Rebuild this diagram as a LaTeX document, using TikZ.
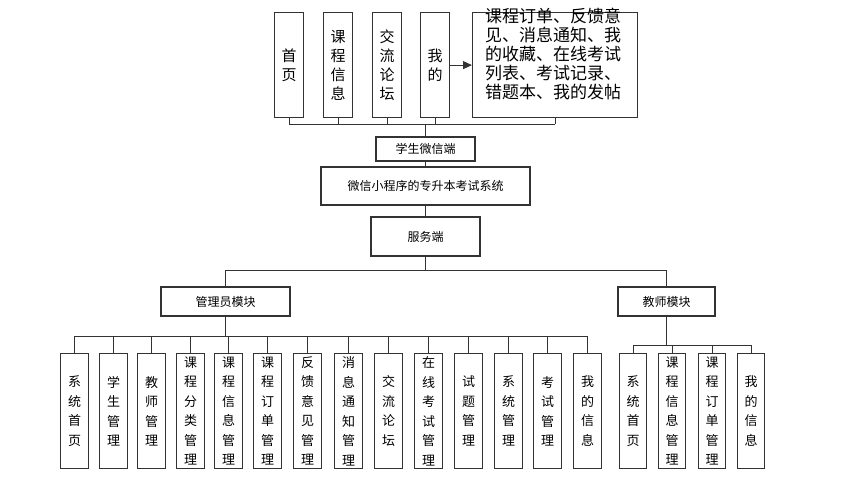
\documentclass[tikz,border=0pt]{standalone}
\usepackage{fontspec}
\setmainfont{Noto Sans CJK SC}
\usetikzlibrary{arrows.meta}
\begin{document}
\begin{tikzpicture}[x=1pt,y=-1pt,
  bx/.style={draw=black!80,line width=1.2pt,inner sep=0pt,align=center},
  ln/.style={draw=black!80,line width=1pt},
  top/.style={bx,minimum width=29pt,minimum height=105pt,anchor=north west,font=\fontsize{15}{19}\selectfont},
  low/.style={bx,minimum width=28pt,minimum height=115pt,anchor=north west,font=\fontsize{13}{19.5}\selectfont},
  mid/.style={bx,font=\fontsize{12}{14}\selectfont}]
\useasboundingbox (0,0) rectangle (855,477);
\node[top] (t1) at (274,12) {首\\页};
\node[top] (t2) at (323,12) {课\\程\\信\\息};
\node[top] (t3) at (372,12) {交\\流\\论\\坛};
\node[top] (t4) at (420,12) {我\\的};
\node[bx,minimum width=165pt,minimum height=105pt,anchor=north west] (t5) at (472,12) {};
\node[anchor=north west,inner sep=0pt,align=left,font=\fontsize{17}{19}\selectfont] (t5t) at (485,8) {课程订单、反馈意\\见、消息通知、我\\的收藏、在线考试\\列表、考试记录、\\错题本、我的发帖};
\draw[ln,-{Triangle[length=9pt,width=8pt]}] (t4.east) -- (t5.west|-t4.east);
\node[mid,minimum width=99pt,minimum height=24pt] (s) at (425.5,149) {学生微信端};
\node[mid,minimum width=209pt,minimum height=38pt] (w) at (425.5,186) {微信小程序的专升本考试系统};
\node[mid,minimum width=109pt,minimum height=39pt] (f) at (425.5,236.5) {服务端};
\node[mid,minimum width=129pt,minimum height=29pt] (a) at (225.5,301.5) {管理员模块};
\node[mid,minimum width=97pt,minimum height=29pt] (te) at (666.5,301.5) {教师模块};
\coordinate (b1) at (0,124);
\foreach \n in {t1,t2,t3,t4,t5} \draw[ln] (\n.south) -- (\n.south|-b1);
\draw[ln] (t1.south|-b1) -- (t5.south|-b1);
\draw[ln] (s.north|-b1) -- (s.north);
\draw[ln] (s) -- (w);
\draw[ln] (w) -- (f);
\coordinate (b2) at (0,270);
\draw[ln] (f.south) -- (f.south|-b2);
\draw[ln] (a.north|-b2) -- (te.north|-b2);
\draw[ln] (a.north|-b2) -- (a.north);
\draw[ln] (te.north|-b2) -- (te.north);
\coordinate (b3) at (0,336);
\foreach \x/\t [count=\i] in {60/{系\\统\\首\\页},99/{学\\生\\管\\理},137/{教\\师\\管\\理},176/{课\\程\\分\\类\\管\\理},214/{课\\程\\信\\息\\管\\理},253/{课\\程\\订\\单\\管\\理},293/{反\\馈\\意\\见\\管\\理},334/{消\\息\\通\\知\\管\\理},374/{交\\流\\论\\坛},414/{在\\线\\考\\试\\管\\理},454/{试\\题\\管\\理},494/{系\\统\\管\\理},533/{考\\试\\管\\理},573/{我\\的\\信\\息}}
  {\node[low] (m\i) at (\x,353) {\t};
   \draw[ln] (m\i.north) -- (m\i.north|-b3);}
\draw[ln] (m1.north|-b3) -- (m14.north|-b3);
\draw[ln] (a.south) -- (a.south|-b3);
\coordinate (b4) at (0,345);
\foreach \x/\t [count=\i] in {619/{系\\统\\首\\页},658/{课\\程\\信\\息\\管\\理},698/{课\\程\\订\\单\\管\\理},737/{我\\的\\信\\息}}
  {\node[low,minimum width=27pt] (e\i) at (\x,353) {\t};
   \draw[ln] (e\i.north) -- (e\i.north|-b4);}
\draw[ln] (e1.north|-b4) -- (e4.north|-b4);
\draw[ln] (te.south) -- (te.south|-b4);
\end{tikzpicture}
\end{document}
